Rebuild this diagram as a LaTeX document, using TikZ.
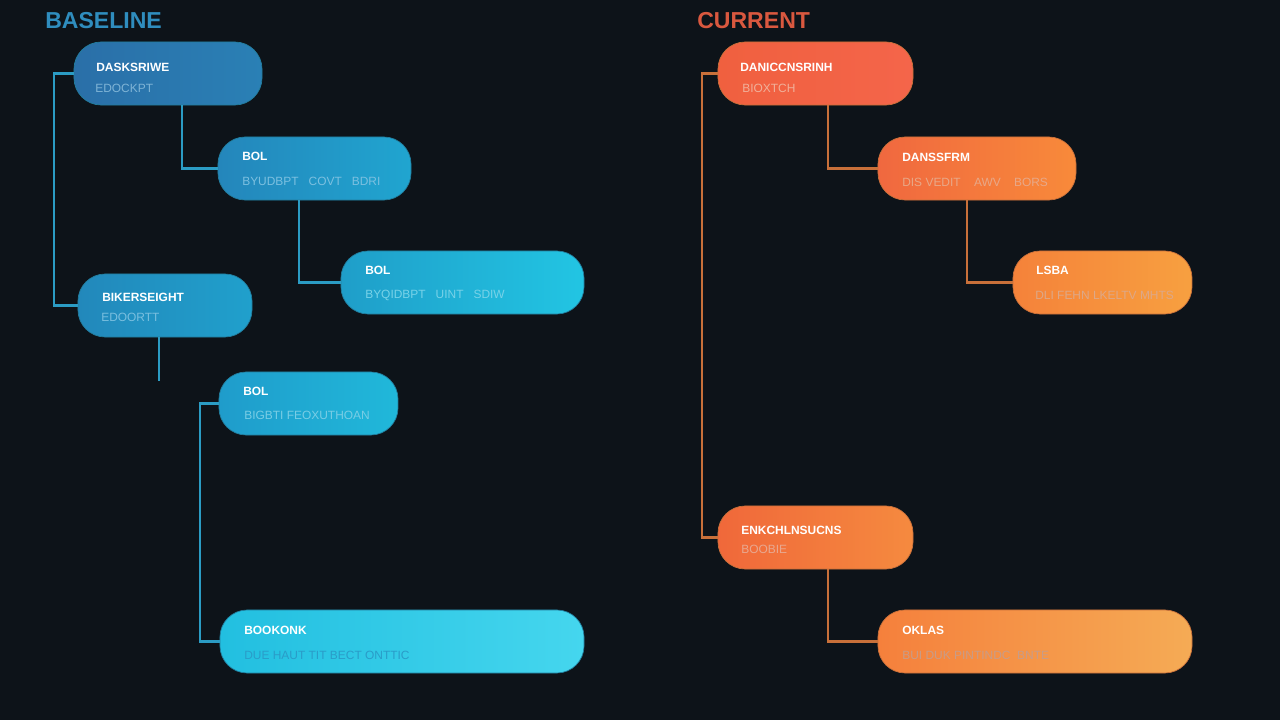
\documentclass[tikz,border=0pt]{standalone}
\usepackage{fontspec}
\setmainfont{Liberation Sans}

\definecolor{bgcol}{HTML}{0D1319}
\definecolor{bluehead}{HTML}{2F8DBE}
\definecolor{orangehead}{HTML}{D9583F}
\definecolor{bluelink}{HTML}{2B9CC4}
\definecolor{orangelink}{HTML}{C8703A}
% Block gradients, left and right end
\definecolor{bonel}{HTML}{2A6FA8}\definecolor{boner}{HTML}{2A80B5}
\definecolor{btwol}{HTML}{2486BB}\definecolor{btwor}{HTML}{20A5D0}
\definecolor{bthreel}{HTML}{1F9EC9}\definecolor{bthreer}{HTML}{22C5E3}
\definecolor{bfourl}{HTML}{2288BB}\definecolor{bfourr}{HTML}{20A0CC}
\definecolor{bfivel}{HTML}{1F9CCB}\definecolor{bfiver}{HTML}{20B8DA}
\definecolor{bsixl}{HTML}{22BFE0}\definecolor{bsixr}{HTML}{45D6EE}
\definecolor{conel}{HTML}{F0603F}\definecolor{coner}{HTML}{F4654A}
\definecolor{ctwol}{HTML}{F0683F}\definecolor{ctwor}{HTML}{F88A3A}
\definecolor{cthreel}{HTML}{F5823A}\definecolor{cthreer}{HTML}{F7A040}
\definecolor{cfourl}{HTML}{F0683A}\definecolor{cfourr}{HTML}{F58A3F}
\definecolor{cfivel}{HTML}{F5803C}\definecolor{cfiver}{HTML}{F5AB55}
% Second line of text
\definecolor{bonesub}{HTML}{7FB4D6}
\definecolor{btwosub}{HTML}{7CC0E0}
\definecolor{bthreesub}{HTML}{78D2E8}
\definecolor{bfoursub}{HTML}{7ABFDF}
\definecolor{bfivesub}{HTML}{79CDE5}
\definecolor{bsixsub}{HTML}{2A9CC8}
\definecolor{conesub}{HTML}{F0B09A}
\definecolor{ctwosub}{HTML}{E8A888}
\definecolor{cthreesub}{HTML}{DDA888}
\definecolor{cfoursub}{HTML}{E8A890}
\definecolor{cfivesub}{HTML}{C89C88}

\tikzset{
    blockbase/.style={rounded corners=0.68cm, inner sep=0pt, outer sep=0pt, minimum height=1.575cm, line width=0.5pt},
    blueblock/.style={blockbase, draw=bluelink!80!black},
    orangeblock/.style={blockbase, draw=orangelink},
    heading/.style={anchor=west, inner sep=0pt, font=\fontsize{16.4}{16}\selectfont\bfseries},
    nametext/.style={anchor=west, inner sep=0pt, text=white, font=\fontsize{8.5}{9}\selectfont\bfseries},
    subtext/.style={anchor=west, inner sep=0pt, font=\fontsize{8.5}{9}\selectfont},
    bluewire/.style={draw=bluelink, line width=1.6pt},
    orangewire/.style={draw=orangelink, line width=1.6pt}
}

\begin{document}
\begin{tikzpicture}[x=0.025cm, y=-0.025cm]
    \useasboundingbox (0,0) rectangle (1280,720);
    \fill[bgcol] (0,0) rectangle (1280,720);

    % Headings
    \node[heading, text=bluehead] (basehead) at (45,21) {BASELINE};
    \node[heading, text=orangehead] (currhead) at (697,21) {CURRENT};

    % Baseline blocks
    \node[blueblock, minimum width=4.7cm, left color=bonel, right color=boner] (b1) at (168,73.5) {};
    \node[blueblock, minimum width=4.825cm, left color=btwol, right color=btwor] (b2) at (314.5,168.5) {};
    \node[blueblock, minimum width=6.075cm, left color=bthreel, right color=bthreer] (b3) at (462.5,282.5) {};
    \node[blueblock, minimum width=4.35cm, left color=bfourl, right color=bfourr] (b4) at (165,305.5) {};
    \node[blueblock, minimum width=4.475cm, left color=bfivel, right color=bfiver] (b5) at (308.5,403.5) {};
    \node[blueblock, minimum width=9.1cm, left color=bsixl, right color=bsixr] (b6) at (402,641.5) {};

    % Current blocks
    \node[orangeblock, minimum width=4.875cm, left color=conel, right color=coner] (c1) at (815.5,73.5) {};
    \node[orangeblock, minimum width=4.95cm, left color=ctwol, right color=ctwor] (c2) at (977,168.5) {};
    \node[orangeblock, minimum width=4.475cm, left color=cthreel, right color=cthreer] (c3) at (1102.5,282.5) {};
    \node[orangeblock, minimum width=4.875cm, left color=cfourl, right color=cfourr] (c4) at (815.5,537.5) {};
    \node[orangeblock, minimum width=7.85cm, left color=cfivel, right color=cfiver] (c5) at (1035,641.5) {};

    % Baseline texts
    \node[nametext] (b1name) at (96,67) {DASKSRIWE};
    \node[subtext, text=bonesub] (b1sub) at (95,88) {EDOCKPT};
    \node[nametext] (b2name) at (242,156) {BOL};
    \node[subtext, text=btwosub] (b2sub) at (242,181) {BYUDBPT~~~COVT~~~BDRI};
    \node[nametext] (b3name) at (365,270) {BOL};
    \node[subtext, text=bthreesub] (b3sub) at (365,295) {BYQIDBPT~~~UINT~~~SDIW};
    \node[nametext] (b4name) at (102,297) {BIKERSEIGHT};
    \node[subtext, text=bfoursub] (b4sub) at (101,317) {EDOORTT};
    \node[nametext] (b5name) at (243,391) {BOL};
    \node[subtext, text=bfivesub] (b5sub) at (244,415) {BIGBTI FEOXUTHOAN};
    \node[nametext] (b6name) at (244,630) {BOOKONK};
    \node[subtext, text=bsixsub] (b6sub) at (244,655) {DUE HAUT TIT BECT ONTTIC};

    % Current texts
    \node[nametext] (c1name) at (740,67) {DANICCNSRINH};
    \node[subtext, text=conesub] (c1sub) at (742,88) {BIOXTCH};
    \node[nametext] (c2name) at (902,157) {DANSSFRM};
    \node[subtext, text=ctwosub] (c2sub) at (902,182) {DIS VEDIT~~~~AWV~~~~BORS};
    \node[nametext] (c3name) at (1036,270) {LSBA};
    \node[subtext, text=cthreesub] (c3sub) at (1035,295) {DLI FEHN LKELTV MHTS};
    \node[nametext] (c4name) at (741,530) {ENKCHLNSUCNS};
    \node[subtext, text=cfoursub] (c4sub) at (741,549) {BOOBIE};
    \node[nametext] (c5name) at (902,630) {OKLAS};
    \node[subtext, text=cfivesub] (c5sub) at (902,655) {BUI DUK PINTINDC~~BNTE};

    % Points where the wires turn or leave a block
    \coordinate (bleft) at (54,73.5);
    \coordinate (b1out) at (182,105);
    \coordinate (b2out) at (299,200);
    \coordinate (b4out) at (159,337);
    \coordinate (b4end) at (159,381);
    \coordinate (b5left) at (200,403.5);
    \coordinate (cleft) at (702,73.5);
    \coordinate (c1out) at (828,105);
    \coordinate (c2out) at (967,200);
    \coordinate (c4out) at (828,569);

    % Baseline wires
    \draw[bluewire] (b1.west) -- (bleft) |- (b4.west);
    \draw[bluewire] (b1out) |- (b2.west);
    \draw[bluewire] (b2out) |- (b3.west);
    \draw[bluewire] (b4out) -- (b4end);
    \draw[bluewire] (b5.west) -- (b5left) |- (b6.west);

    % Current wires
    \draw[orangewire] (c1.west) -- (cleft) |- (c4.west);
    \draw[orangewire] (c1out) |- (c2.west);
    \draw[orangewire] (c2out) |- (c3.west);
    \draw[orangewire] (c4out) |- (c5.west);

\end{tikzpicture}
\end{document}
